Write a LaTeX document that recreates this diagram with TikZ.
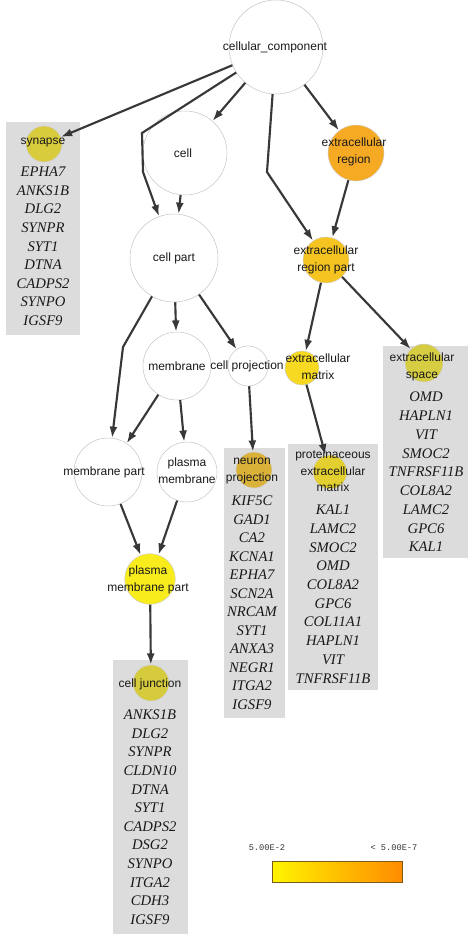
\documentclass[tikz,border=0pt]{standalone}
\usepackage{fontspec}
\setmainfont{Liberation Serif}
\setsansfont{Liberation Sans}
\setmonofont{Liberation Mono}
\usetikzlibrary{arrows.meta}

\definecolor{boxgray}{HTML}{DCDCDC}
\definecolor{cSyn}{HTML}{D9CC3C}
\definecolor{cExReg}{HTML}{F6AA24}
\definecolor{cExRegPart}{HTML}{F6C420}
\definecolor{cExMat}{HTML}{F6D920}
\definecolor{cExSpace}{HTML}{D6CD42}
\definecolor{cNeuron}{HTML}{DAB23A}
\definecolor{cProtein}{HTML}{E4CF30}
\definecolor{cPmPart}{HTML}{F8EC1C}
\definecolor{cJunction}{HTML}{D6CB3C}
\definecolor{barorange}{HTML}{FF8000}
\definecolor{barrim}{HTML}{7A5A20}

\pgfdeclarehorizontalshading{pval}{100bp}{color(0bp)=(yellow); color(20bp)=(yellow); color(80bp)=(barorange); color(100bp)=(barorange)}

\tikzset{
    term/.style={circle, draw=black!22, line width=0.4pt, fill=white, inner sep=0pt},
    hit/.style={term, draw=black!18},
    lbl/.style={font=\sffamily\fontsize{9}{12.5}\selectfont, align=center, inner sep=0pt, text=black!90},
    gene/.style={font=\itshape\fontsize{11}{13}\selectfont, inner sep=0pt, text=black!90},
    pvtxt/.style={font=\ttfamily\fontsize{6.5}{8}\selectfont, inner sep=0pt, text=black!80},
    edge/.style={draw=black!78, line width=1.6pt, -{Latex[length=8.5pt,width=6pt]}},
}

\begin{document}
\begin{tikzpicture}[x=0.75pt,y=-0.75pt]
    \useasboundingbox (0,0) rectangle (474,947);

    % grey gene boxes
    \fill[boxgray] (6,122) rectangle (80,335);
    \fill[boxgray] (383,346) rectangle (468,558);
    \fill[boxgray] (224,448) rectangle (285,718);
    \fill[boxgray] (288,444) rectangle (378,690);
    \fill[boxgray] (113,660) rectangle (188,934);

    % GO terms
    \node[term, minimum size=70.5pt] (cc) at (276,47) {};
    \node[term, minimum size=63pt] (cell) at (185,153) {};
    \node[term, minimum size=66pt] (cellpart) at (174,258) {};
    \node[term, minimum size=51pt] (membrane) at (177,366) {};
    \node[term, minimum size=30pt] (cellproj) at (248,366) {};
    \node[term, minimum size=51pt] (mempart) at (108,472) {};
    \node[term, minimum size=45pt] (plasmamem) at (187,472) {};

    \node[hit, fill=cSyn, minimum size=27pt] (synapse) at (44,144) {};
    \node[hit, fill=cExReg, minimum size=42pt] (exreg) at (356,153) {};
    \node[hit, fill=cExRegPart, minimum size=34.5pt] (exregpart) at (326,260) {};
    \node[hit, fill=cExMat, minimum size=25.5pt] (exmatrix) at (302,368) {};
    \node[hit, fill=cExSpace, minimum size=28.5pt] (exspace) at (424,363) {};
    \node[hit, fill=cNeuron, minimum size=27pt] (neuronproj) at (254,470) {};
    \node[hit, fill=cProtein, minimum size=25.5pt] (protein) at (330,472) {};
    \node[hit, fill=cPmPart, minimum size=38pt] (pmpart) at (150,579) {};
    \node[hit, fill=cJunction, minimum size=27pt] (junction) at (151,683) {};

    % bends
    \coordinate (b1) at (142,133);
    \coordinate (b2) at (143,172);
    \coordinate (b3) at (267,172);
    \coordinate (b4) at (123,347);

    % is_a / part_of edges
    \draw[edge] (cc) -- (synapse);
    \draw[edge] (cc) -- (cell);
    \draw[edge] (cc) -- (b1) -- (b2) -- (cellpart);
    \draw[edge] (cc) -- (exreg);
    \draw[edge] (cc) -- (b3) -- (exregpart);
    \draw[edge] (cell) -- (cellpart);
    \draw[edge] (exreg) -- (exregpart);
    \draw[edge] (cellpart) -- (membrane);
    \draw[edge] (cellpart) -- (cellproj);
    \draw[edge] (cellpart) -- (b4) -- (mempart);
    \draw[edge] (membrane) -- (mempart);
    \draw[edge] (membrane) -- (plasmamem);
    \draw[edge] (cellproj) -- (neuronproj);
    \draw[edge] (exregpart) -- (exmatrix);
    \draw[edge] (exregpart) -- (exspace);
    \draw[edge] (exmatrix) -- (protein);
    \draw[edge] (mempart) -- (pmpart);
    \draw[edge] (plasmamem) -- (pmpart);
    \draw[edge] (pmpart) -- (junction);

    % term names
    \node[lbl] (cc-t) at (275,47) {cellular\_component};
    \node[lbl] (cell-t) at (183,153) {cell};
    \node[lbl] (cellpart-t) at (174,258) {cell part};
    \node[lbl] (membrane-t) at (177,366) {membrane};
    \node[lbl] (cellproj-t) at (247,366) {cell projection};
    \node[lbl] (mempart-t) at (104,472) {membrane part};
    \node[lbl] (plasmamem-t) at (187,471) {plasma\\membrane};
    \node[lbl] (synapse-t) at (43,143) {synapse};
    \node[lbl] (exreg-t) at (354,152) {extracellular\\region};
    \node[lbl] (exregpart-t) at (326,260) {extracellular\\region part};
    \node[lbl] (exmatrix-t) at (318,367) {extracellular\\matrix};
    \node[lbl] (exspace-t) at (422,367) {extracellular\\space};
    \node[lbl] (neuronproj-t) at (252,471) {neuron\\projection};
    \node[lbl] (protein-t) at (333,471) {proteinaceous\\extracellular\\matrix};
    \node[lbl] (pmpart-t) at (148,580) {plasma\\membrane part};
    \node[lbl] (junction-t) at (150,684) {cell junction};

    % gene lists
    \foreach \g [count=\i from 0] in {EPHA7,ANKS1B,DLG2,SYNPR,SYT1,DTNA,CADPS2,SYNPO,IGSF9}
        \node[gene] (syn-g\i) at (43,{172+18.6*\i}) {\g};
    \foreach \g [count=\i from 0] in {OMD,HAPLN1,VIT,SMOC2,TNFRSF11B,COL8A2,LAMC2,GPC6,KAL1}
        \node[gene] (sp-g\i) at (426,{397+18.75*\i}) {\g};
    \foreach \g [count=\i from 0] in {KIF5C,GAD1,CA2,KCNA1,EPHA7,SCN2A,NRCAM,SYT1,ANXA3,NEGR1,ITGA2,IGSF9}
        \node[gene] (np-g\i) at (252,{501+18.5*\i}) {\g};
    \foreach \g [count=\i from 0] in {KAL1,LAMC2,SMOC2,OMD,COL8A2,GPC6,COL11A1,HAPLN1,VIT,TNFRSF11B}
        \node[gene] (pm-g\i) at (333,{510+18.7*\i}) {\g};
    \foreach \g [count=\i from 0] in {ANKS1B,DLG2,SYNPR,CLDN10,DTNA,SYT1,CADPS2,DSG2,SYNPO,ITGA2,CDH3,IGSF9}
        \node[gene] (cj-g\i) at (150,{715+18.6*\i}) {\g};

    % p-value colour bar
    \node[shade, shading=pval, draw=barrim, line width=0.8pt, minimum width=98pt, minimum height=16pt, inner sep=0pt] (bar) at (337.5,872) {};
    \node[pvtxt] (pv-lo) at (267,848) {5.00E-2};
    \node[pvtxt] (pv-hi) at (394,848) {< 5.00E-7};
\end{tikzpicture}
\end{document}
